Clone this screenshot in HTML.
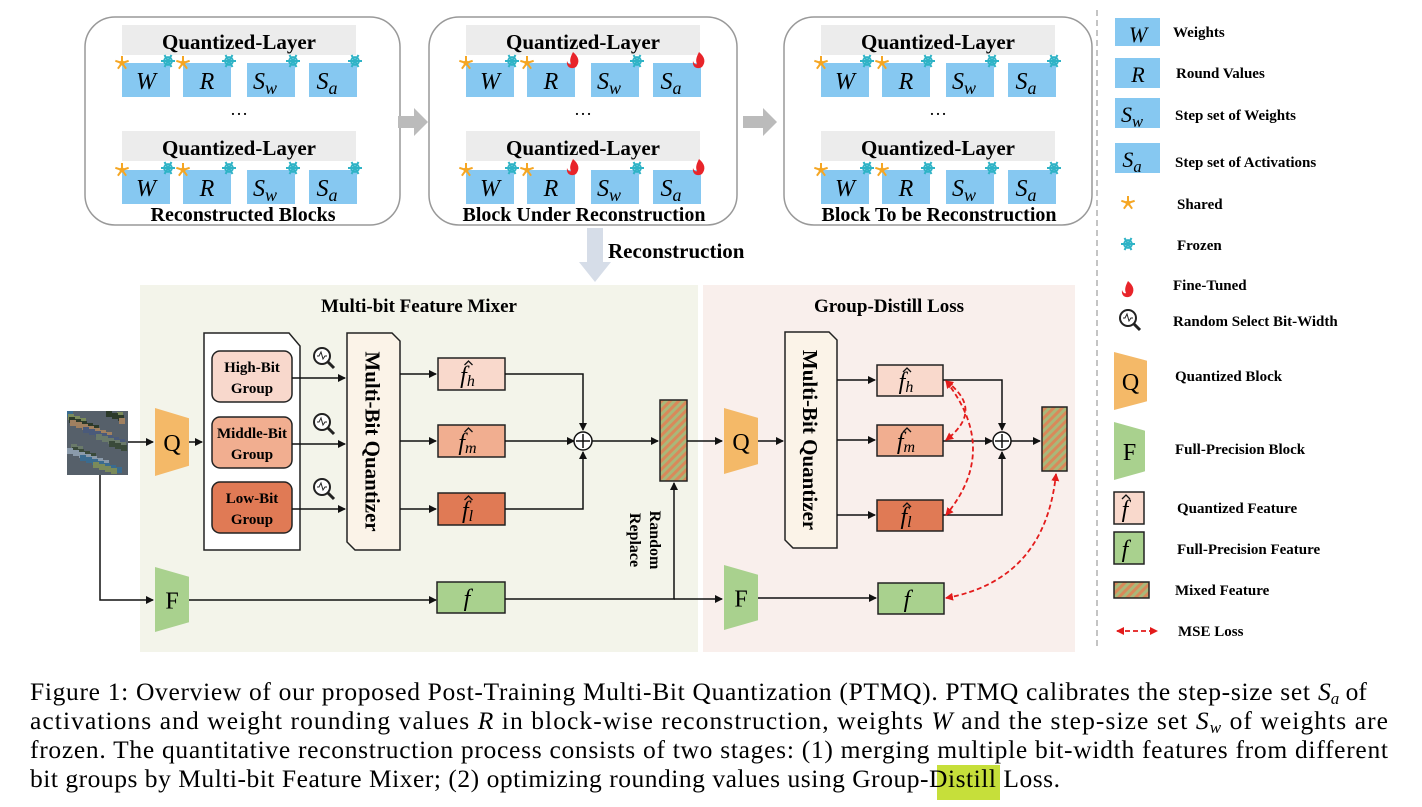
<!DOCTYPE html>
<html><head><meta charset="utf-8"><style>
html,body{margin:0;padding:0;background:#fff;width:1422px;height:807px;overflow:hidden}
svg{display:block}
text{font-family:"Liberation Serif",serif}
.b{font-weight:bold}
</style></head><body>
<svg id="s" width="1422" height="807" viewBox="0 0 1422 807" xmlns="http://www.w3.org/2000/svg">
<defs>
<pattern id="hatch" width="6" height="6" patternUnits="userSpaceOnUse" patternTransform="rotate(45)">
<rect width="6" height="6" fill="#a9b879"/><rect width="3" height="6" fill="#d9895a"/></pattern>
<marker id="ar" markerWidth="8" markerHeight="8" refX="7" refY="4" orient="auto" markerUnits="userSpaceOnUse"><path d="M0,0 L8,4 L0,8 z" fill="#111"/></marker>
<marker id="rr" markerWidth="8" markerHeight="8" refX="7" refY="4" orient="auto-start-reverse" markerUnits="userSpaceOnUse"><path d="M0,0 L8,4 L0,8 z" fill="#e31b1b"/></marker>
</defs>
<rect x="140" y="285" width="558" height="367" fill="#f3f4ea"/>
<rect x="703" y="285" width="372" height="367" fill="#f9efec"/>
<line x1="1097" y1="10" x2="1097" y2="650" stroke="#888" stroke-dasharray="6,4"/>
<g id="top"></g>
<path d="M398,116 h16 v-8 l14,14 l-14,14 v-8 h-16z" fill="#bbb"/>
<path d="M743,116 h20 v-8 l14,14 l-14,14 v-8 h-20z" fill="#bbb"/>
<path d="M587,228 h16 v34 h8 l-16,20 l-16,-20 h8z" fill="#d6dde8"/>
<text x="608" y="258" font-size="21" class="b">Reconstruction</text>
<text x="419" y="312" font-size="19" class="b" text-anchor="middle">Multi-bit Feature Mixer</text>
<text x="889" y="312" font-size="19" class="b" text-anchor="middle">Group-Distill Loss</text>
<g id="main"></g>
<g id="leg"></g>
<rect x="937" y="765" width="63" height="35" fill="#c6df3a"/>
<g font-size="25.5">
<text x="30" y="700" textLength="1280" lengthAdjust="spacing">Figure 1: Overview of our proposed Post-Training Multi-Bit Quantization (PTMQ). PTMQ calibrates the step-size set</text>
<text x="1318" y="700"><tspan font-style="italic">S</tspan><tspan font-style="italic" font-size="17" dy="4">a</tspan><tspan dy="-4"> of</tspan></text>
<text x="30" y="729" textLength="1358" lengthAdjust="spacing">activations and weight rounding values <tspan font-style="italic">R</tspan> in block-wise reconstruction, weights <tspan font-style="italic">W</tspan> and the step-size set <tspan font-style="italic">S</tspan><tspan font-style="italic" font-size="17" dy="4">w</tspan><tspan dy="-4"> of weights are</tspan></text>
<text x="30" y="758" textLength="1358" lengthAdjust="spacing">frozen. The quantitative reconstruction process consists of two stages: (1) merging multiple bit-width features from different</text>
<text x="30" y="787" textLength="1030" lengthAdjust="spacing">bit groups by Multi-bit Feature Mixer; (2) optimizing rounding values using Group-Distill Loss.</text>
</g>
</svg>
<script>
function snow(x,y,r){r=r||7;let s=`<g stroke="#2fb3c6" stroke-width="2">`;for(let a=0;a<3;a++){const t=a*Math.PI/3;s+=`<line x1="${x-r*Math.cos(t)}" y1="${y-r*Math.sin(t)}" x2="${x+r*Math.cos(t)}" y2="${y+r*Math.sin(t)}"/>`;}return s+`<circle cx="${x}" cy="${y}" r="${r*0.55}" fill="none"/></g>`;}
function star(x,y){let s=`<g stroke="#f5a623" stroke-width="2">`;for(let a=0;a<5;a++){const t=a*2*Math.PI/5-Math.PI/2;s+=`<line x1="${x}" y1="${y}" x2="${x+7*Math.cos(t)}" y2="${y+7*Math.sin(t)}"/>`;}return s+`</g><circle cx="${x}" cy="${y}" r="2.5" fill="#f5a623"/>`;}
function fire(x,y){return `<path d="M${x},${y-9} c6,5 7,10 3,15 c-5,3 -10,0 -9,-6 c1,3 3,4 4,3 c-2,-4 0,-8 2,-12z" fill="#e8242a"/>`;}
function lab(k,x,y,fs){fs=fs||24;if(k=='W'||k=='R')return `<text x="${x}" y="${y}" font-size="${fs}" font-style="italic" text-anchor="middle">${k}</text>`;return `<text x="${x-6}" y="${y}" font-size="${fs}" font-style="italic" text-anchor="middle">S<tspan font-size="${fs*0.75}" dy="5">${k}</tspan></text>`;}
let t='';
const offs=[0,344,699];
offs.forEach((o,bi)=>{
 t+=`<rect x="${85+o}" y="17" width="${[315,308,308][bi]}" height="208" rx="30" fill="#fff" stroke="#999" stroke-width="1.5"/>`;
 [[25,63],[131,170]].forEach(([hy,cy])=>{
  t+=`<rect x="${122+o}" y="${hy}" width="234" height="30" fill="#ececec"/>`;
  t+=`<text x="${239+o}" y="${hy+24}" font-size="21" class="b" text-anchor="middle">Quantized-Layer</text>`;
  const xs=[122,183,247,309],ks=['W','R','w','a'];
  xs.forEach((x,i)=>{
   t+=`<rect x="${x+o}" y="${cy}" width="48" height="34" fill="#86c8f1"/>`;
   t+=lab(ks[i],x+o+24,cy+26);
   if(i<2)t+=star(x+o,cy);
   if(bi==1&&i%2==1)t+=fire(x+o+46,cy-2);else t+=snow(x+o+46,cy-2);
  });
 });
 t+=`<text x="${239+o}" y="115" font-size="18" text-anchor="middle">…</text>`;
 t+=`<text x="${[243,584,939][bi]}" y="221" font-size="20" class="b" text-anchor="middle">${['Reconstructed Blocks','Block Under Reconstruction','Block To be Reconstruction'][bi]}</text>`;
});
document.getElementById('top').innerHTML=t;
function trap(x,y,w,h,c,l){return `<path d="M${x},${y} L${x+w},${y+h*0.15} L${x+w},${y+h*0.85} L${x},${y+h}z" fill="${c}"/><text x="${x+w/2}" y="${y+h/2+9}" font-size="24" text-anchor="middle">${l}</text>`;}
function fbox(x,y,w,h,c,sub){const cx=x+w/2-4;return `<rect x="${x}" y="${y}" width="${w}" height="${h}" fill="${c}" stroke="#222" stroke-width="1.5"/><text x="${cx}" y="${y+h-7}" font-size="24" font-style="italic" text-anchor="middle">f${sub?`<tspan font-size="16" dy="3">${sub}</tspan>`:''}</text>`+(sub!==null&&sub!==undefined?`<path d="M${cx-3},${y+7} l4,-4 l4,4" fill="none" stroke="#111" stroke-width="1.3"/>`:'');}
function mag(x,y){return `<circle cx="${x}" cy="${y}" r="8" fill="#fff" stroke="#222" stroke-width="2"/><path d="M${x-5},${y} h2 l2,-4 l2,7 l2,-3 h2" stroke="#222" fill="none" stroke-width="1"/><line x1="${x+6}" y1="${y+6}" x2="${x+12}" y2="${y+12}" stroke="#222" stroke-width="3"/>`;}
function mbq(x,y,w,h){return `<path d="M${x},${y} h${w-8} l8,8 v${h-8} h${-w+8} l-8,-8z" fill="#fbf3e8" stroke="#222" stroke-width="1.5"/><text transform="translate(${x+w/2-8},${y+h/2}) rotate(90)" font-size="21" class="b" text-anchor="middle">Multi-Bit Quantizer</text>`;}
function L(d,arrow){return `<path d="${d}" fill="none" stroke="#111" stroke-width="1.5" ${arrow?'marker-end="url(#ar)"':''}/>`;}
let m='';
m+=`<rect x="67" y="411" width="61" height="64" fill="#56606a"/>`;
for(let i=0;i<60;i++){const c=['#3a6b8f','#7a8a5a','#2c3a2a','#a08060','#4a5a7a','#6a7a6a','#3a4a3a','#8a9aaa'][i%8];m+=`<rect x="${67+(i*13%55)}" y="${411+(i*7%58)}" width="6" height="6" fill="${c}"/>`;}
m+=trap(155,408,34,68,'#f4b968','Q');
m+=trap(155,567,34,65,'#a9d18e','F');
m+=L('M128,442 H153',1);
m+=L('M100,475 V600 H153',1);
m+=L('M189,442 H202',1);
m+=`<path d="M204,333 h85 l11,13 v204 h-96z" fill="#fff" stroke="#222" stroke-width="1.5"/>`;
[[351,'#f8d8cc','High-Bit'],[417,'#f1ae90','Middle-Bit'],[482,'#e07a55','Low-Bit']].forEach(([y,c,n])=>{
 m+=`<rect x="212" y="${y}" width="80" height="51" rx="8" fill="${c}" stroke="#222" stroke-width="1.5"/><text x="252" y="${y+21}" font-size="15" class="b" text-anchor="middle">${n}</text><text x="252" y="${y+42}" font-size="15" class="b" text-anchor="middle">Group</text>`;
 m+=L(`M292,${y+27} H345`,1)+mag(322,y+5);
});
m+=mbq(347,333,53,217);
[[358,'#f9d9cc','h'],[425,'#f1ae90','m'],[493,'#e07a55','l']].forEach(([y,c,s],i)=>{
 m+=L(`M400,${y+16} H436`,1)+fbox(438,y,67,32,c,s);
 m+= i==1?L(`M505,441 H574`,1): L(`M505,${y+16} H583 V${i==0?430:452}`,1);
});
m+=`<circle cx="583" cy="441" r="9" fill="#fff" stroke="#111" stroke-width="1.5"/><path d="M576,441h14M583,434v14" stroke="#111" stroke-width="1.5"/>`;
m+=L('M592,441 H658',1);
m+=`<rect x="660" y="400" width="27" height="81" fill="url(#hatch)" stroke="#222" stroke-width="1.5"/>`;
m+=L('M189,600 H436',1)+fbox(437,582,68,31,'#a9d18e',null);
m+=L('M505,599 H674 V483',1)+L('M674,599 H722',1);
m+=`<text transform="translate(650,540) rotate(90)" font-size="16" class="b" text-anchor="middle">Random</text><text transform="translate(630,540) rotate(90)" font-size="16" class="b" text-anchor="middle">Replace</text>`;
m+=L('M687,441 H722',1);
m+=trap(724,408,34,66,'#f4b968','Q')+trap(724,565,34,65,'#a9d18e','F');
m+=L('M758,441 H783',1);
m+=mbq(785,332,52,216);
[[365,'#f9d9cc','h'],[425,'#f1ae90','m'],[500,'#e07a55','l']].forEach(([y,c,s],i)=>{
 m+=L(`M837,${y+15} H875`,1)+fbox(877,y,66,31,c,s);
 m+= i==1?L(`M943,441 H992`,1): L(`M943,${y+15} H1002 V${i==0?430:452}`,1);
});
m+=`<circle cx="1002" cy="441" r="9" fill="#fff" stroke="#111" stroke-width="1.5"/><path d="M995,441h14M1002,434v14" stroke="#111" stroke-width="1.5"/>`;
m+=L('M1011,441 H1040',1);
m+=`<rect x="1042" y="407" width="25" height="64" fill="url(#hatch)" stroke="#222" stroke-width="1.5"/>`;
m+=L('M758,598 H876',1)+fbox(878,583,66,31,'#a9d18e',null);
const R=d=>`<path d="${d}" fill="none" stroke="#e31b1b" stroke-width="1.8" stroke-dasharray="5,3" marker-start="url(#rr)" marker-end="url(#rr)"/>`;
m+=R('M946,381 Q985,410 946,440')+R('M946,381 Q1000,450 946,515')+R('M946,598 Q1045,580 1056,474');
document.getElementById('main').innerHTML=m;
let g='';
[[18,'W'],[58,'R'],[98,'w'],[143,'a']].forEach(([y,k])=>{g+=`<rect x="1115" y="${y}" width="45" height="${k=='W'?28:30}" fill="#86c8f1"/>`+lab(k,1138,y+24,22);});
g+=star(1128,203)+snow(1128,244,7)+fire(1128,290)+mag(1128,318);
g+=trap(1114,352,33,58,'#f4b968','Q')+trap(1114,422,31,58,'#a9d18e','F');
g+=fbox(1114,492,30,32,'#f9d9cc','')+fbox(1114,532,30,32,'#a9d18e',null);
g+=`<rect x="1114" y="582" width="35" height="16" fill="url(#hatch)" stroke="#222" stroke-width="1.5"/>`;
g+=`<path d="M1117,631 H1157" stroke="#e31b1b" stroke-width="1.8" stroke-dasharray="5,3" marker-start="url(#rr)" marker-end="url(#rr)"/>`;
[['Weights',1173,37],['Round Values',1176,78],['Step set of  Weights',1175,120],['Step set of  Activations',1175,167],['Shared',1177,209],['Frozen',1177,250],['Fine-Tuned',1173,290],['Random Select Bit-Width',1173,326],['Quantized Block',1175,381],['Full-Precision Block',1175,454],['Quantized Feature',1177,513],['Full-Precision Feature',1177,554],['Mixed Feature',1175,595],['MSE Loss',1178,636]].forEach(([s,x,y])=>{g+=`<text x="${x}" y="${y}" font-size="15" class="b">${s}</text>`;});
document.getElementById('leg').innerHTML=g;
</script>
</body></html>
